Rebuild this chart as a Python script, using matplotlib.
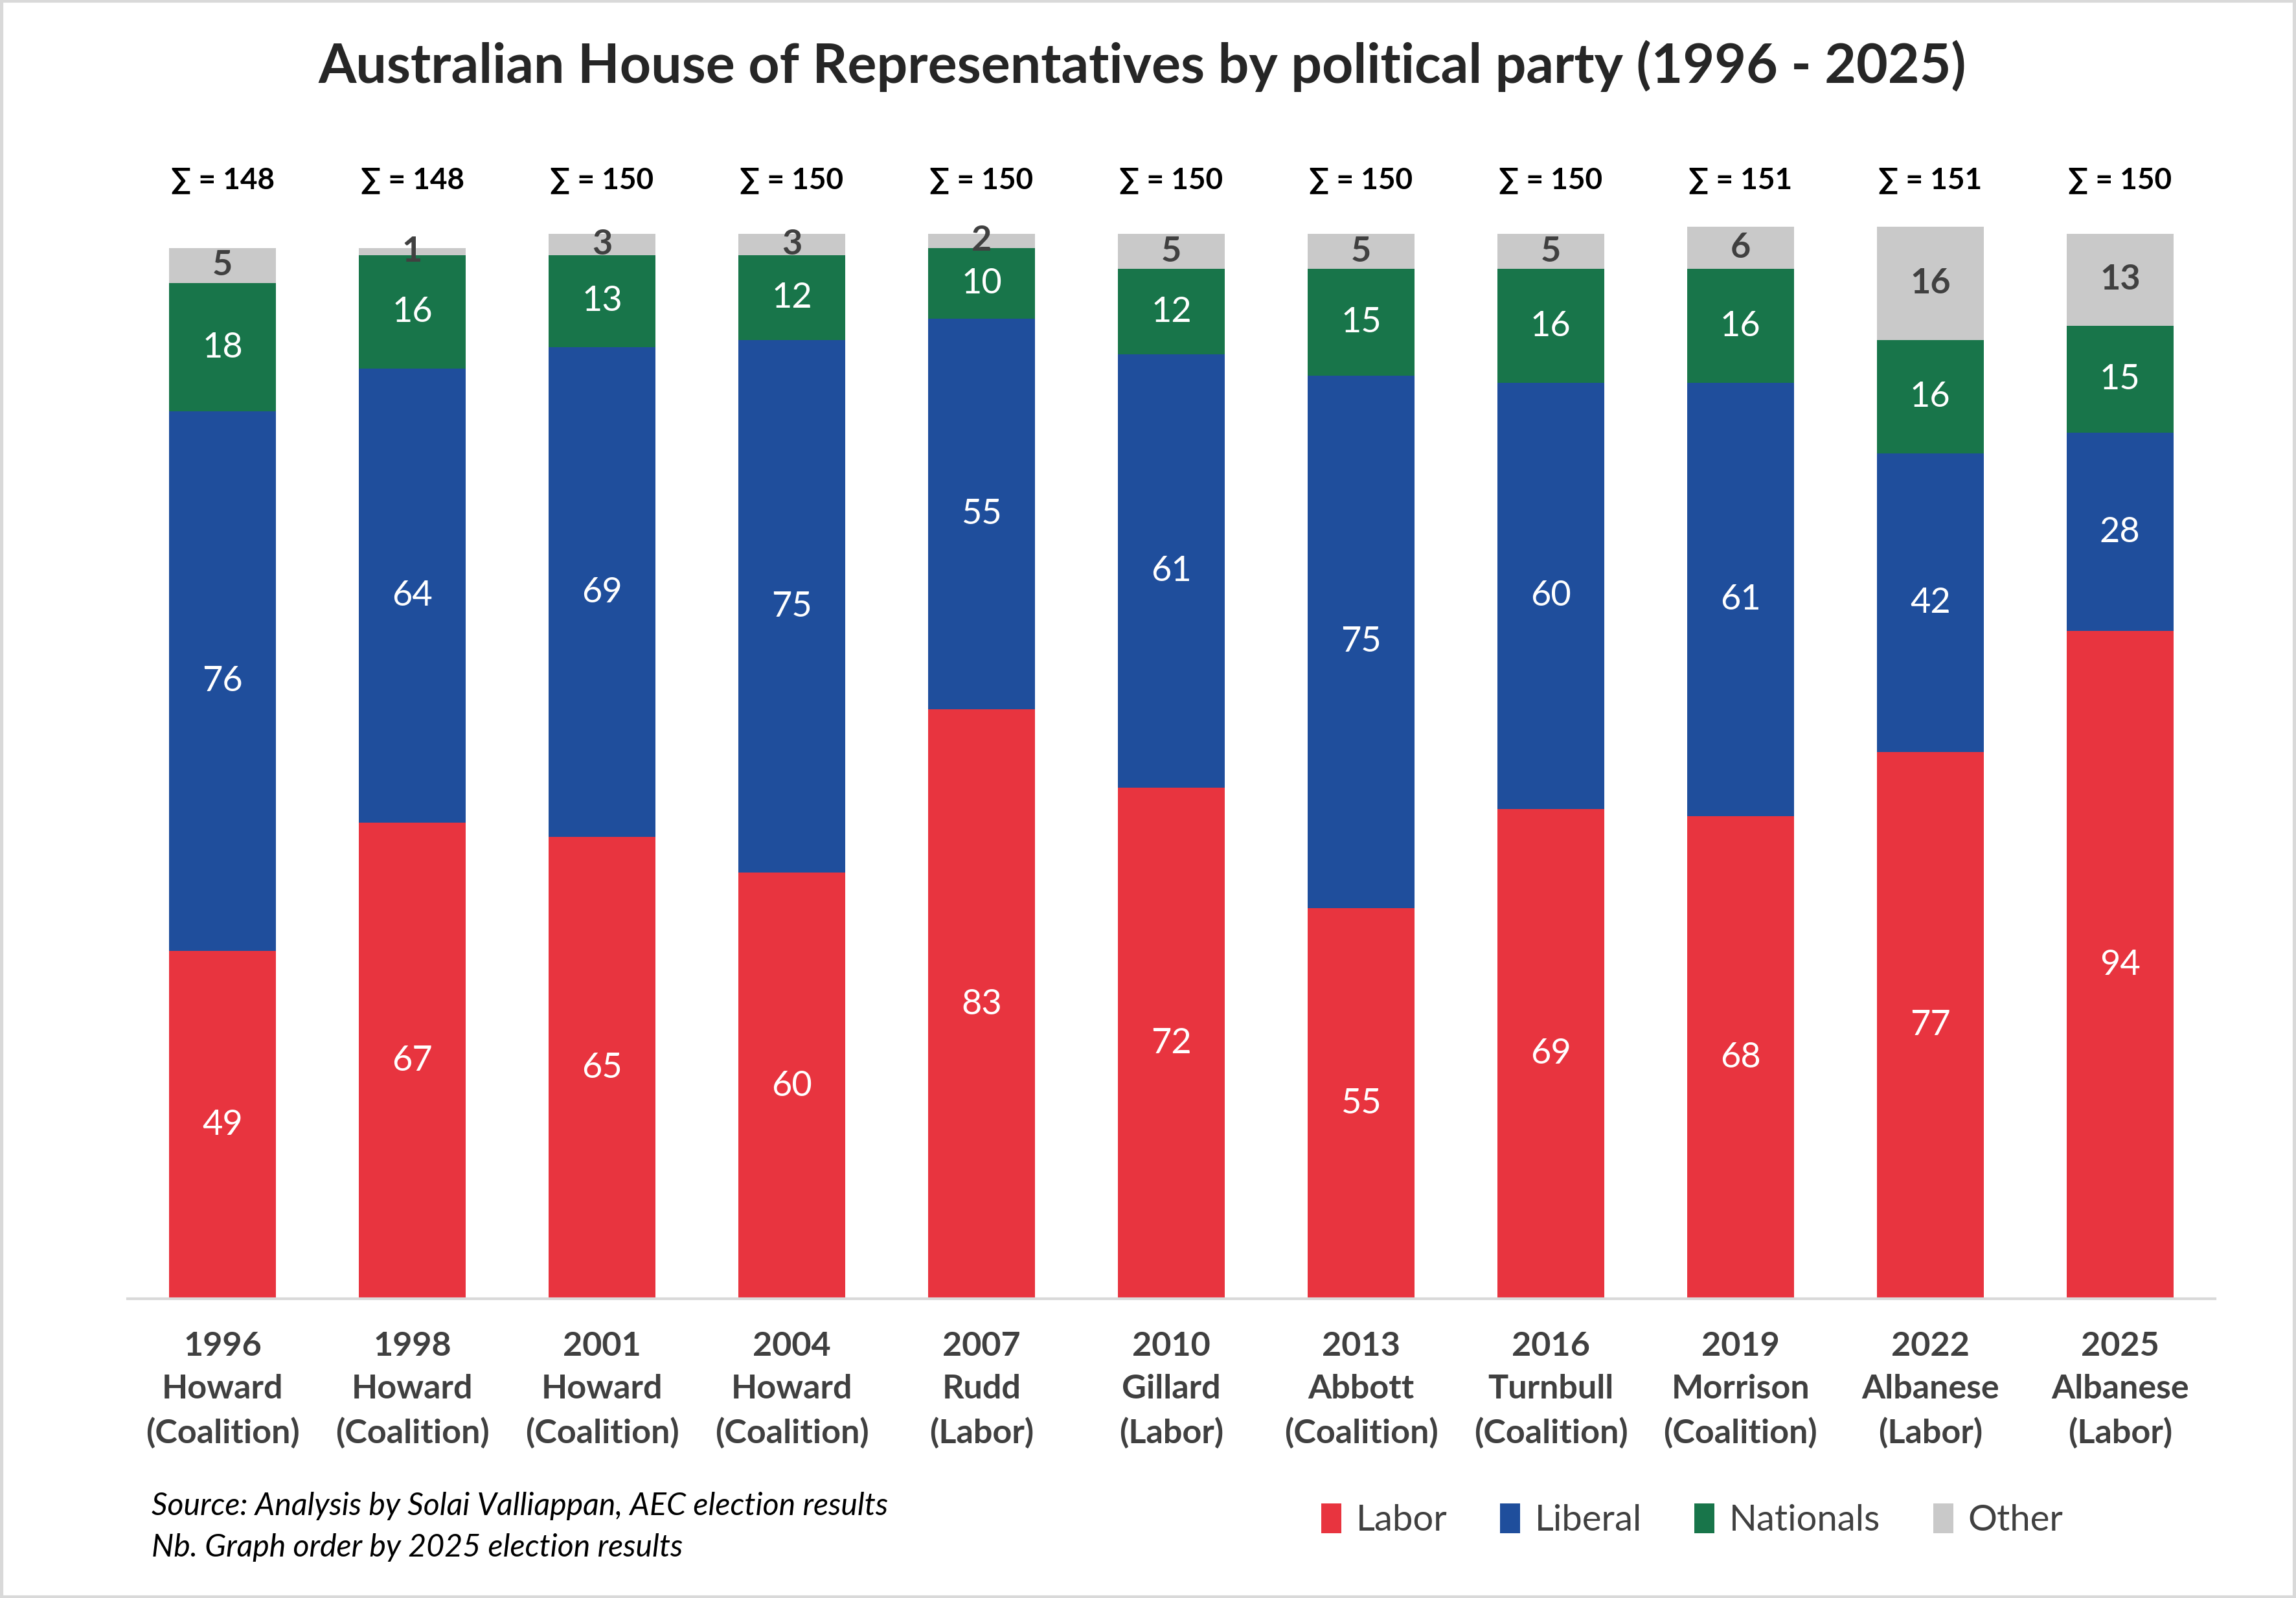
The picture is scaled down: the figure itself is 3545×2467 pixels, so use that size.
"""Australian House of Representatives seats by party, stacked bars."""
import matplotlib
matplotlib.use("Agg")
import matplotlib.pyplot as plt
from matplotlib.patches import Patch, Rectangle

years = ["1996", "1998", "2001", "2004", "2007", "2010", "2013", "2016", "2019", "2022", "2025"]
leaders = ["Howard", "Howard", "Howard", "Howard", "Rudd", "Gillard", "Abbott", "Turnbull",
           "Morrison", "Albanese", "Albanese"]
govts = ["Coalition", "Coalition", "Coalition", "Coalition", "Labor", "Labor", "Coalition",
         "Coalition", "Coalition", "Labor", "Labor"]

labor = [49, 67, 65, 60, 83, 72, 55, 69, 68, 77, 94]
liberal = [76, 64, 69, 75, 55, 61, 75, 60, 61, 42, 28]
nationals = [18, 16, 13, 12, 10, 12, 15, 16, 16, 16, 15]
other = [5, 1, 3, 3, 2, 5, 5, 5, 6, 16, 13]

series = [("Labor", labor, "#e8343f"), ("Liberal", liberal, "#1f4e9c"),
          ("Nationals", nationals, "#18754a"), ("Other", other, "#c9c9c9")]

FONT = ["Lato", "DejaVu Sans"]
plt.rcParams["font.family"] = FONT

fig = plt.figure(figsize=(3545 / 300, 2467 / 300), dpi=300)
ax = fig.add_axes([0.0556, 0.1873, 0.9091, 0.7154])

x = list(range(len(years)))
bottom = [0] * len(years)
for name, vals, color in series:
    ax.bar(x, vals, width=0.563, bottom=bottom, color=color, label=name, zorder=2)
    for i, v in enumerate(vals):
        yc = bottom[i] + v / 2
        if name == "Other":
            ax.text(i, yc, str(v), ha="center", va="center", fontsize=13,
                    fontweight="bold", color="#404040")
        else:
            ax.text(i, yc, str(v), ha="center", va="center", fontsize=13, color="white")
    bottom = [b + v for b, v in zip(bottom, vals)]

# totals above each bar
for i, tot in enumerate(bottom):
    ax.text(i, 157.5, f"\u2211 = {tot}", ha="center", va="center", fontsize=11,
            fontweight="bold", color="black")

ax.set_xlim(-0.5, len(years) - 0.5)
ax.set_ylim(0, 161)
ax.set_yticks([])
ax.set_xticks(x)
ax.set_xticklabels([f"{y}\n{l}\n({g})" for y, l, g in zip(years, leaders, govts)],
                   fontsize=12.5, fontweight="bold", color="#404040", linespacing=1.5)
ax.tick_params(axis="x", length=0, pad=12)
for s in ["top", "left", "right"]:
    ax.spines[s].set_visible(False)
ax.spines["bottom"].set_color("#d9d9d9")
ax.spines["bottom"].set_linewidth(1.0)

fig.text(0.4975, 0.9588, "Australian House of Representatives by political party (1996 - 2025)",
         ha="center", va="center", fontsize=20.2, fontweight="bold", color="#262626")

fig.text(0.066, 0.0575, "Source: Analysis by Solai Valliappan, AEC election results",
         ha="left", va="center", fontsize=11.6, style="italic", color="black")
fig.text(0.066, 0.0315, "Nb. Graph order by 2025 election results",
         ha="left", va="center", fontsize=11.6, style="italic", color="black")

handles = [Patch(facecolor=c, label=n) for n, _, c in series]
fig.legend(handles=handles, loc="center", bbox_to_anchor=(0.737, 0.0486), ncol=4,
           frameon=False, fontsize=13.5, handlelength=0.55, handleheight=0.9,
           handletextpad=0.4, columnspacing=1.45, labelcolor="#404040")

fig.patches.append(Rectangle((0.0005, 0.0005), 0.999, 0.999, transform=fig.transFigure,
                             fill=False, edgecolor="#d9d9d9", linewidth=1.5))

fig.savefig("out.png", dpi=300)
